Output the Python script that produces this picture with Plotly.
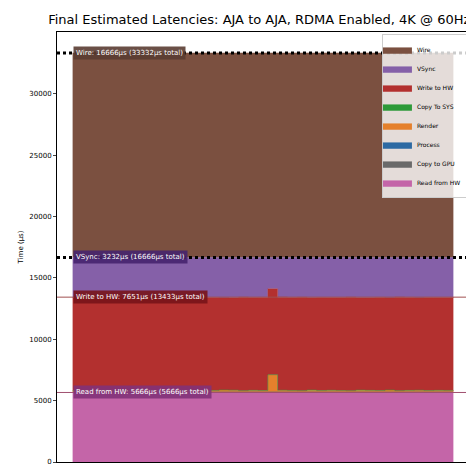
import plotly.graph_objects as go

frames = list(range(40))
read_hw = [5666]*40
copy_gpu = [20,22,19,21,20,23,20,19,21,22,20,21,20,19,22,20,21,20,22,21,20,19,21,20,22,20,21,19,20,22,21,20,19,21,20,22,20,21,20,19]
process = [15,14,16,15,15,14,16,15,14,15,16,15,14,15,15,16,14,15,15,14,16,15,14,15,16,15,14,15,15,16,14,15,15,14,16,15,14,15,16,15]
render = [110,130,95,160,120,105,140,180,115,100,150,125,135,110,120,160,145,100,130,115,1400,140,120,105,150,110,135,120,100,145,130,115,160,105,125,140,110,130,120,100]
copy_sys = [10,11,9,10,10,11,10,9,10,11,10,10,9,10,11,10,10,9,10,11,10,10,9,10,11,10,10,9,10,11,10,10,9,10,11,10,10,9,10,11]
write_hw = [7590,7560,7610,7500,7560,7600,7540,7480,7580,7610,7520,7560,7550,7580,7570,7500,7520,7610,7560,7580,7000,7580,7570,7600,7520,7580,7550,7570,7610,7520,7540,7580,7500,7610,7570,7520,7580,7560,7570,7610]
vsync = [16666 - (a+b+c+d+e+f) for a,b,c,d,e,f in zip(read_hw,copy_gpu,process,render,copy_sys,write_hw)]
wire = [16666]*40

series = [("Read from HW", read_hw, "#c465a8"), ("Copy to GPU", copy_gpu, "#6a6a6a"),
          ("Process", process, "#2d6aa3"), ("Render", render, "#e5802c"),
          ("Copy To SYS", copy_sys, "#2e9a3a"), ("Write to HW", write_hw, "#b3302f"),
          ("VSync", vsync, "#8560a8"), ("Wire", wire, "#7b5040")]

fig = go.Figure()
for name, vals, col in series:
    fig.add_trace(go.Scatter(x=frames, y=vals, name=name, stackgroup="one", mode="lines",
                             line=dict(width=0.5, color=col, shape="hv"), fillcolor=col, opacity=1))

lines = [(33332, "dot", "black", 3), (16666, "dot", "black", 3), (13433, "solid", "#a05050", 1), (5666, "solid", "#a05070", 1)]
for y, dash, col, w in lines:
    fig.add_shape(type="line", xref="paper", x0=0, x1=1, y0=y, y1=y, line=dict(dash=dash, color=col, width=w))

labels = [(33332, "Wire: 16666µs (33332µs total)", "rgba(90,60,50,0.9)"),
          (16666, "VSync: 3232µs (16666µs total)", "rgba(70,35,110,0.9)"),
          (13433, "Write to HW: 7651µs (13433µs total)", "rgba(120,20,25,0.9)"),
          (5666, "Read from HW: 5666µs (5666µs total)", "rgba(130,50,120,0.9)")]
for y, t, bg in labels:
    fig.add_annotation(x=0, y=y, text=t, showarrow=False, xanchor="left", yanchor="middle",
                       font=dict(color="white", size=7, family="DejaVu Sans"), bgcolor=bg, borderpad=2)

fig.update_layout(width=474, height=470, margin=dict(l=42, r=12, t=24, b=15),
                  title=dict(text="Final Estimated Latencies: AJA to AJA, RDMA Enabled, 4K @ 60Hz", x=0.53, y=0.985,
                             font=dict(size=13, color="black")),
                  plot_bgcolor="white", paper_bgcolor="white",
                  font=dict(family="DejaVu Sans", size=7, color="black"),
                  legend=dict(x=0.995, y=0.995, xanchor="right", yanchor="top", traceorder="reversed",
                              bgcolor="rgba(255,255,255,0.8)", bordercolor="#ccc", borderwidth=1,
                              font=dict(size=6), itemwidth=30, tracegroupgap=0, indentation=-6),
                  xaxis=dict(range=[-1.6, 40.6], showticklabels=False, showgrid=False, zeroline=False,
                             showline=True, linecolor="black", mirror=True, ticks=""),
                  yaxis=dict(range=[0, 35040], tickvals=[0,5000,10000,15000,20000,25000,30000], tickformat="d",
                             showgrid=False, zeroline=False, showline=True, linecolor="black", mirror=True,
                             ticks="outside", ticklen=3, title=dict(text="Time (µs)", font=dict(size=7), standoff=4)))
fig.write_html("out.html")
